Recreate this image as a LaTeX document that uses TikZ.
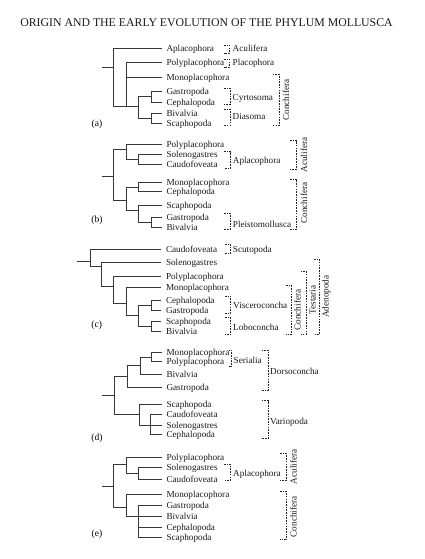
\documentclass[tikz,border=0pt]{standalone}
\usepackage{fontspec}
\setmainfont{Liberation Serif}
\begin{document}
\begin{tikzpicture}[x=1pt,y=-1pt,
  tree/.style={draw=black!78, line width=1pt},
  leaf/.style={anchor=west, inner sep=0pt, outer xsep=5pt, text height=6pt, text depth=0pt, font=\fontsize{9.2}{10}\selectfont, text=black!90},
  grp/.style={anchor=west, inner sep=0pt, text height=6pt, text depth=0pt, font=\fontsize{9.2}{10}\selectfont, text=black!90},
  vgrp/.style={rotate=90, anchor=center, inner sep=0pt, text height=6pt, text depth=0pt, font=\fontsize{9.2}{10}\selectfont, text=black!90},
  brk/.style={draw=black!85, line width=0.65pt, dash pattern=on 1.6pt off 1.1pt},
  plab/.style={anchor=center, inner sep=0pt, font=\fontsize{9.5}{10}\selectfont},
]
\useasboundingbox (0,0) rectangle (425,559);

\node[font=\fontsize{11.8}{13}\selectfont, text=black!90] (title) at (206.5,22.3) {ORIGIN AND THE EARLY EVOLUTION OF THE PHYLUM MOLLUSCA};

% ---------------- (a)
\node[leaf] (a1) at (161.5,49) {Aplacophora};
\node[leaf] (a2) at (161.5,63) {Polyplacophora};
\node[leaf] (a3) at (161.5,77.7) {Monoplacophora};
\node[leaf] (a4) at (161.5,91.7) {Gastropoda};
\node[leaf] (a5) at (161.5,102.3) {Cephalopoda};
\node[leaf] (a6) at (161.5,113.3) {Bivalvia};
\node[leaf] (a7) at (161.5,123.5) {Scaphopoda};
\coordinate (aS) at (102.3,67.3);
\coordinate (aR) at (113.3,67.3);
\coordinate (aN1) at (126.7,106.7);
\coordinate (aN2) at (138.3,106.7);
\coordinate (aN3) at (151.7,97);
\coordinate (aN4) at (151.7,118.4);
\draw[tree] (aS) -- (aR);
\draw[tree] (aR) |- (a1.west);
\draw[tree] (aR) |- (aN1);
\draw[tree] (aN1) |- (a2.west);
\draw[tree] (aN1) |- (a3.west);
\draw[tree] (aN1) |- (aN2);
\draw[tree] (aN2) |- (aN3);
\draw[tree] (aN2) |- (aN4);
\draw[tree] (aN3) |- (a4.west);
\draw[tree] (aN3) |- (a5.west);
\draw[tree] (aN4) |- (a6.west);
\draw[tree] (aN4) |- (a7.west);
\node[plab] (la) at (97,124) {(a)};
\draw[brk] (224,45) -| (229.5,53) -- (224,53);
\node[grp] (ga1) at (232.5,49) {Aculifera};
\draw[brk] (224,59) -| (229.5,67) -- (224,67);
\node[grp] (ga2) at (232.5,63) {Placophora};
\draw[brk] (224,88.3) -| (230,104.3) -- (224,104.3);
\node[grp] (ga3) at (232.5,97.5) {Cyrtosoma};
\draw[brk] (224,109) -| (230,125.7) -- (224,125.7);
\node[grp] (ga4) at (232.5,116.7) {Diasoma};
\draw[brk] (272.7,74.3) -| (279,125.5) -- (272.7,125.5);
\node[vgrp] (ga5) at (286,100) {Conchifera};

% ---------------- (b)
\node[leaf] (b1) at (161.5,144) {Polyplacophora};
\node[leaf] (b2) at (161.5,154.3) {Solenogastres};
\node[leaf] (b3) at (161.5,164.7) {Caudofoveata};
\node[leaf] (b4) at (161.5,182.3) {Monoplacophora};
\node[leaf] (b5) at (161.5,191.7) {Cephalopoda};
\node[leaf] (b6) at (161.5,205.3) {Scaphopoda};
\node[leaf] (b7) at (161.5,217.3) {Gastropoda};
\node[leaf] (b8) at (161.5,227.3) {Bivalvia};
\coordinate (bS) at (102.3,176);
\coordinate (bR) at (113.3,176);
\coordinate (bN1) at (126.7,149.3);
\coordinate (bN2) at (138.3,159.5);
\coordinate (bN3) at (126.7,200);
\coordinate (bN4) at (138.3,187);
\coordinate (bN5) at (138.3,210);
\coordinate (bN6) at (151.7,222.3);
\draw[tree] (bS) -- (bR);
\draw[tree] (bR) |- (bN1);
\draw[tree] (bR) |- (bN3);
\draw[tree] (bN1) |- (b1.west);
\draw[tree] (bN1) |- (bN2);
\draw[tree] (bN2) |- (b2.west);
\draw[tree] (bN2) |- (b3.west);
\draw[tree] (bN3) |- (bN4);
\draw[tree] (bN3) |- (bN5);
\draw[tree] (bN4) |- (b4.west);
\draw[tree] (bN4) |- (b5.west);
\draw[tree] (bN5) |- (b6.west);
\draw[tree] (bN5) |- (bN6);
\draw[tree] (bN6) |- (b7.west);
\draw[tree] (bN6) |- (b8.west);
\node[plab] (lb) at (97,220) {(b)};
\draw[brk] (224,151.7) -| (230.5,168.3) -- (224,168.3);
\node[grp] (gb1) at (232.7,160.3) {Aplacophora};
\draw[brk] (224,213.3) -| (230.5,229.3) -- (224,229.3);
\node[grp] (gb2) at (232.7,224) {Pleistomollusca};
\draw[brk] (290,140.7) -| (296.7,169) -- (290,169);
\node[vgrp] (gb3) at (304,155) {Aculifera};
\draw[brk] (290,179) -| (296.7,229.3) -- (290,229.3);
\node[vgrp] (gb4) at (304,203) {Conchifera};

% ---------------- (c)
\node[leaf] (c1) at (161,249) {Caudofoveata};
\node[leaf] (c2) at (161,262.3) {Solenogastres};
\node[leaf] (c3) at (161,276.7) {Polyplacophora};
\node[leaf] (c4) at (161,287.7) {Monoplacophora};
\node[leaf] (c5) at (161,300.3) {Cephalopoda};
\node[leaf] (c6) at (161,310.3) {Gastropoda};
\node[leaf] (c7) at (161,321) {Scaphopoda};
\node[leaf] (c8) at (161,331.7) {Bivalvia};
\coordinate (cS) at (77.3,261);
\coordinate (cR) at (90,261);
\coordinate (cN1) at (101.7,266.7);
\coordinate (cN2) at (113.3,286.7);
\coordinate (cN3) at (126.7,303.3);
\coordinate (cN4) at (138.3,315);
\coordinate (cN5) at (151.7,305.3);
\coordinate (cN6) at (151.7,326.3);
\draw[tree] (cS) -- (cR);
\draw[tree] (cR) |- (c1.west);
\draw[tree] (cR) |- (cN1);
\draw[tree] (cN1) |- (c2.west);
\draw[tree] (cN1) |- (cN2);
\draw[tree] (cN2) |- (c3.west);
\draw[tree] (cN2) |- (cN3);
\draw[tree] (cN3) |- (c4.west);
\draw[tree] (cN3) |- (cN4);
\draw[tree] (cN4) |- (cN5);
\draw[tree] (cN4) |- (cN6);
\draw[tree] (cN5) |- (c5.west);
\draw[tree] (cN5) |- (c6.west);
\draw[tree] (cN6) |- (c7.west);
\draw[tree] (cN6) |- (c8.west);
\node[plab] (lc) at (96.7,325.7) {(c)};
\draw[brk] (225,244.3) -| (230.7,253.3) -- (225,253.3);
\node[grp] (gc1) at (232.7,249) {Scutopoda};
\draw[brk] (225,296) -| (230.7,313.3) -- (225,313.3);
\node[grp] (gc2) at (233,305.5) {Visceroconcha};
\draw[brk] (225,317.7) -| (230.7,334.3) -- (225,334.3);
\node[grp] (gc3) at (233,327) {Loboconcha};
\draw[brk] (286,285.7) -| (291.7,334.3) -- (286,334.3);
\node[vgrp] (gc4) at (297.5,310) {Conchifera};
\draw[brk] (300.7,271) -| (306,334.3) -- (300.7,334.3);
\node[vgrp] (gc5) at (312.5,300) {Testaria};
\draw[brk] (314,259) -| (319.3,334.3) -- (314,334.3);
\node[vgrp] (gc6) at (325.5,296.7) {Adenopoda};

% ---------------- (d)
\node[leaf] (d1) at (161.5,352.3) {Monoplacophora};
\node[leaf] (d2) at (161.5,361.7) {Polyplacophora};
\node[leaf] (d3) at (161.5,374) {Bivalvia};
\node[leaf] (d4) at (161.5,387) {Gastropoda};
\node[leaf] (d5) at (161.5,404) {Scaphopoda};
\node[leaf] (d6) at (161.5,414.3) {Caudofoveata};
\node[leaf] (d7) at (161.5,425) {Solenogastres};
\node[leaf] (d8) at (161.5,434.3) {Cephalopoda};
\coordinate (dS) at (101.7,395.7);
\coordinate (dR) at (114.3,395.7);
\coordinate (dC) at (127.3,376);
\coordinate (dB) at (140,365.7);
\coordinate (dA) at (151.7,357.7);
\coordinate (dD) at (139.3,414);
\coordinate (dE) at (150.3,425);
\draw[tree] (dS) -- (dR);
\draw[tree] (dR) |- (dC);
\draw[tree] (dR) |- (dD);
\draw[tree] (dC) |- (dB);
\draw[tree] (dC) |- (d4.west);
\draw[tree] (dB) |- (dA);
\draw[tree] (dB) |- (d3.west);
\draw[tree] (dA) |- (d1.west);
\draw[tree] (dA) |- (d2.west);
\draw[tree] (dD) |- (d5.west);
\draw[tree] (dD) |- (dE);
\draw[tree] (dE) |- (d6.west);
\draw[tree] (dE) |- (d7.west);
\draw[tree] (dE) |- (d8.west);
\node[plab] (ld) at (97,438.3) {(d)};
\draw[brk] (228.5,350) -| (231.7,366) -- (228.5,366);
\node[grp] (gd1) at (233.5,360) {Serialia};
\draw[brk] (261.7,350) -| (268.3,390) -- (261.7,390);
\node[grp] (gd2) at (270,371.7) {Dorsoconcha};
\draw[brk] (261.7,400.7) -| (268.3,438.3) -- (261.7,438.3);
\node[grp] (gd3) at (270,421) {Variopoda};

% ---------------- (e)
\node[leaf] (e1) at (161.5,457.7) {Polyplacophora};
\node[leaf] (e2) at (161.5,467.7) {Solenogastres};
\node[leaf] (e3) at (161.5,479) {Caudofoveata};
\node[leaf] (e4) at (161.5,494.3) {Monoplacophora};
\node[leaf] (e5) at (161.5,505.7) {Gastropoda};
\node[leaf] (e6) at (161.5,516) {Bivalvia};
\node[leaf] (e7) at (161.5,527) {Cephalopoda};
\node[leaf] (e8) at (161.5,537.3) {Scaphopoda};
\coordinate (eS) at (102.3,486.7);
\coordinate (eR) at (113.3,486.7);
\coordinate (eN1) at (126.7,464.3);
\coordinate (eN2) at (138.3,473.3);
\coordinate (eN3) at (126.7,507.7);
\coordinate (eN4) at (138.3,516);
\draw[tree] (eS) -- (eR);
\draw[tree] (eR) |- (eN1);
\draw[tree] (eR) |- (eN3);
\draw[tree] (eN1) |- (e1.west);
\draw[tree] (eN1) |- (eN2);
\draw[tree] (eN2) |- (e2.west);
\draw[tree] (eN2) |- (e3.west);
\draw[tree] (eN3) |- (e4.west);
\draw[tree] (eN3) |- (eN4);
\draw[tree] (eN4) |- (e5.west);
\draw[tree] (eN4) |- (e6.west);
\draw[tree] (eN4) |- (e7.west);
\draw[tree] (eN4) |- (e8.west);
\node[plab] (le) at (97,534.3) {(e)};
\draw[brk] (224,464.3) -| (230.7,480) -- (224,480);
\node[grp] (ge1) at (233,473.3) {Aplacophora};
\draw[brk] (280,453.3) -| (286,480) -- (280,480);
\node[vgrp] (ge2) at (293.5,466.7) {Aculifera};
\draw[brk] (280,491) -| (286,539) -- (280,539);
\node[vgrp] (ge3) at (293.5,516.7) {Conchifera};
\end{tikzpicture}
\end{document}
